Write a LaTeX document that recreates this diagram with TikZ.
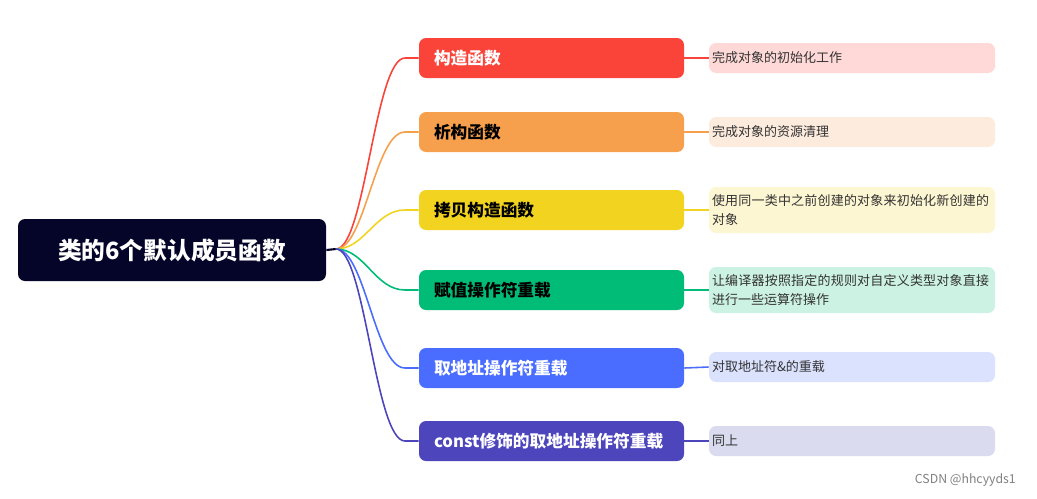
\documentclass[tikz,border=0pt]{standalone}
\usepackage{fontspec}
\setmainfont{Noto Sans CJK SC}
\XeTeXlinebreaklocale "zh"
\XeTeXlinebreakskip=0pt plus 1pt
\usetikzlibrary{positioning}
\definecolor{rootc}{HTML}{05052A}
\definecolor{c1}{HTML}{FA4339}\definecolor{l1}{HTML}{FFD9D8}
\definecolor{c2}{HTML}{F6A04D}\definecolor{l2}{HTML}{FDEBDD}
\definecolor{c3}{HTML}{F2D31F}\definecolor{l3}{HTML}{FDF6D2}
\definecolor{c4}{HTML}{00BC77}\definecolor{l4}{HTML}{CCF2E4}
\definecolor{c5}{HTML}{4A6CFF}\definecolor{l5}{HTML}{DBE2FE}
\definecolor{c6}{HTML}{4C45BB}\definecolor{l6}{HTML}{DBDBF0}
\tikzset{
  topic/.style={rounded corners=4pt, minimum width=265*0.02cm, minimum height=40*0.02cm,
    text width=235*0.02cm, inner xsep=15*0.02cm, font=\bfseries\fontsize{9.5}{11}\selectfont},
  desc/.style={rounded corners=4pt, minimum width=286*0.02cm, text width=280*0.02cm,
    inner xsep=3*0.02cm, align=left, font=\fontsize{7.4}{10.5}\selectfont},
  branch/.style={line width=0.9pt}
}
\begin{document}
\begin{tikzpicture}[x=0.02cm,y=-0.02cm]
\useasboundingbox (0,0) rectangle (1037,498);
\node[fill=rootc, text=white, rounded corners=4pt, minimum width=308*0.02cm,
  minimum height=62*0.02cm, font=\bfseries\fontsize{13.5}{16}\selectfont] (root) at (172,250) {类的6个默认成员函数};
\coordinate (o) at (336,249);
\draw[line width=1.2pt, rootc] (root.east) -- (o);
\foreach \i/\y/\dy/\dh/\tc/\t/\d in {
  1/58/58/30/white/构造函数/完成对象的初始化工作,
  2/132/132/30/black/析构函数/完成对象的资源清理,
  3/210/210/46/black/拷贝构造函数/{使用同一类中之前创建的对象来初始化新创建的对象},
  4/290/290/46/black/赋值操作符重载/{让编译器按照指定的规则对自定义类型对象直接进行一些运算符操作},
  5/368/367/30/white/取地址操作符重载/对取地址符\&的重载,
  6/441/441/30/white/const修饰的取地址操作符重载/同上}{
  \node[topic, fill=c\i, text=\tc] (b\i) at (551.5,\y) {\t};
  \node[desc, fill=l\i, minimum height=\dh*0.02cm, text=black!80] (d\i) at (852,\dy) {\d};
  \draw[branch, c\i] (o) .. controls (365,249) and (375,\y) .. (405,\y) -- (b\i.west);
  \draw[branch, c\i] (b\i.east) -- (d\i.west);
}
\node[font=\fontsize{7}{8}\selectfont, text=gray, anchor=east] (mark) at (1022,480) {CSDN @hhcyyds1};
\end{tikzpicture}
\end{document}
